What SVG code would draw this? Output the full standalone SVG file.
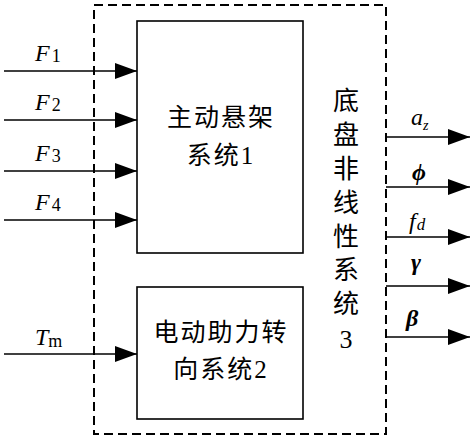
<svg xmlns="http://www.w3.org/2000/svg" width="474" height="440" viewBox="0 0 474 440">
<defs>
<marker id="ah" markerWidth="22" markerHeight="16" refX="22" refY="8" orient="auto" markerUnits="userSpaceOnUse">
<path d="M0,0 L22,8 L0,16 Z" fill="#000"/>
</marker>
</defs>
<style>
.ln{stroke:#000;stroke-width:1.6;fill:none}
.box{stroke:#000;stroke-width:1.6;fill:#fff}
.dash{stroke:#000;stroke-width:2;fill:none;stroke-dasharray:9,5}
.cn{font-family:"Liberation Serif","Noto Sans CJK SC",serif;font-size:25px;letter-spacing:2px;text-anchor:middle;fill:#000}
.vt{font-family:"Liberation Serif","Noto Sans CJK SC",serif;font-size:26px;text-anchor:middle;fill:#000}
.it{font-family:"Liberation Serif",serif;font-style:italic;font-size:24px;fill:#000}
.sb{font-family:"Liberation Serif",serif;font-size:18px;font-style:normal}
.gk{font-family:"Liberation Serif",serif;font-style:italic;font-weight:bold;font-size:24px;fill:#000}
</style>
<rect width="474" height="440" fill="#fff"/>
<g id="boundary">
<rect class="dash" x="94" y="5" width="292" height="429"/>
</g>
<g id="connectors">
<line class="ln" x1="4" y1="71" x2="137" y2="71" marker-end="url(#ah)"/>
<line class="ln" x1="4" y1="120" x2="137" y2="120" marker-end="url(#ah)"/>
<line class="ln" x1="4" y1="171" x2="137" y2="171" marker-end="url(#ah)"/>
<line class="ln" x1="4" y1="220" x2="137" y2="220" marker-end="url(#ah)"/>
<line class="ln" x1="4" y1="354" x2="137" y2="354" marker-end="url(#ah)"/>
<line class="ln" x1="386" y1="137" x2="470" y2="137" marker-end="url(#ah)"/>
<line class="ln" x1="386" y1="187" x2="470" y2="187" marker-end="url(#ah)"/>
<line class="ln" x1="386" y1="237" x2="470" y2="237" marker-end="url(#ah)"/>
<line class="ln" x1="386" y1="286" x2="470" y2="286" marker-end="url(#ah)"/>
<line class="ln" x1="386" y1="337" x2="470" y2="337" marker-end="url(#ah)"/>
</g>
<g id="labels">
<text class="it" x="35" y="61">F<tspan class="sb" dx="2" dy="1">1</tspan></text>
<text class="it" x="35" y="110">F<tspan class="sb" dx="2" dy="1">2</tspan></text>
<text class="it" x="35" y="161">F<tspan class="sb" dx="2" dy="1">3</tspan></text>
<text class="it" x="35" y="210">F<tspan class="sb" dx="2" dy="1">4</tspan></text>
<text class="it" x="35" y="345">T<tspan class="sb" font-size="21" dx="0" dy="2">m</tspan></text>
<text class="it" x="411" y="125" font-size="22">a<tspan font-size="14" dy="5">z</tspan></text>
<text class="gk" x="412" y="180">ϕ</text>
<text class="it" x="409" y="229" font-size="22">f<tspan font-size="17" dx="1" dy="1">d</tspan></text>
<text class="gk" x="411" y="270">γ</text>
<text class="gk" x="406" y="326">β</text>
</g>
<g id="suspension">
<rect class="box" x="137" y="21" width="166" height="232"/>
<text class="cn" x="221" y="126">主动悬架</text>
<text class="cn" x="221" y="164">系统1</text>
</g>
<g id="eps">
<rect class="box" x="137" y="287" width="166" height="132"/>
<text class="cn" x="221" y="341">电动助力转</text>
<text class="cn" x="221" y="378">向系统2</text>
</g>
<g id="chassis">
<text class="vt" x="346" y="110">底</text>
<text class="vt" x="346" y="144">盘</text>
<text class="vt" x="346" y="178">非</text>
<text class="vt" x="346" y="212">线</text>
<text class="vt" x="346" y="246">性</text>
<text class="vt" x="346" y="279">系</text>
<text class="vt" x="346" y="313">统</text>
<text class="vt" x="346" y="348">3</text>
</g>
</svg>
